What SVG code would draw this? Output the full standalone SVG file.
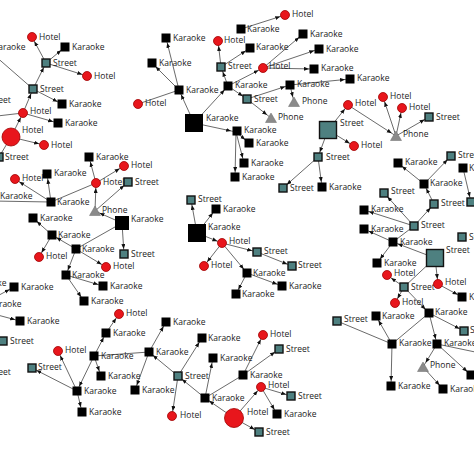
<svg xmlns="http://www.w3.org/2000/svg" width="474" height="474" viewBox="0 0 474 474">
<defs>
<style>
.k{fill:#000}
.h{fill:#e8161c;stroke:#a00000;stroke-width:.8}
.s{fill:#4e8080;stroke:#111;stroke-width:1.4}
.p{fill:#8a8a8a;stroke:#6a6a6a;stroke-width:.5}
text{font-family:"Open Sans","Liberation Sans",sans-serif;font-size:8.5px;fill:#222}
.e{stroke:#444;stroke-width:.8;fill:none}
.a{marker-end:url(#ar)}
</style>
<marker id="ar" markerWidth="6" markerHeight="5" refX="10" refY="2" orient="auto" markerUnits="userSpaceOnUse"><path d="M0,0 L5,2 L0,4z" fill="#111"/></marker>
</defs>
<rect width="474" height="474" fill="#fff"/>
<g id="connectors">
<line class="e a" x1="46" y1="63" x2="32" y2="37"/>
<line class="e a" x1="46" y1="63" x2="65" y2="47"/>
<line class="e a" x1="46" y1="63" x2="87" y2="76"/>
<line class="e a" x1="33" y1="89" x2="46" y2="63"/>
<line class="e a" x1="33" y1="89" x2="62" y2="104"/>
<line class="e a" x1="23" y1="113" x2="33" y2="89"/>
<line class="e a" x1="23" y1="113" x2="58" y2="123"/>
<line class="e a" x1="11" y1="137" x2="44" y2="145"/>
<line class="e a" x1="11" y1="137" x2="23" y2="113"/>
<line class="e" x1="11" y1="137" x2="-1" y2="157"/>
<line class="e" x1="-14" y1="48" x2="33" y2="89"/>
<line class="e" x1="-20" y1="118" x2="23" y2="113"/>
<line class="e a" x1="179" y1="90" x2="166" y2="38"/>
<line class="e a" x1="179" y1="90" x2="152" y2="63"/>
<line class="e" x1="138" y1="104" x2="179" y2="90"/>
<line class="e a" x1="194" y1="123" x2="179" y2="90"/>
<line class="e a" x1="194" y1="123" x2="228" y2="86"/>
<line class="e a" x1="194" y1="123" x2="236" y2="132"/>
<line class="e a" x1="228" y1="86" x2="221" y2="67"/>
<line class="e a" x1="221" y1="67" x2="218" y2="41"/>
<line class="e a" x1="221" y1="67" x2="250" y2="48"/>
<line class="e a" x1="241" y1="29" x2="285" y2="15"/>
<line class="e a" x1="228" y1="86" x2="263" y2="68"/>
<line class="e a" x1="263" y1="68" x2="303" y2="34"/>
<line class="e a" x1="263" y1="68" x2="319" y2="49"/>
<line class="e a" x1="263" y1="68" x2="314" y2="69"/>
<line class="e a" x1="228" y1="86" x2="247" y2="99"/>
<line class="e a" x1="247" y1="99" x2="290" y2="85"/>
<line class="e a" x1="247" y1="99" x2="271" y2="118"/>
<line class="e a" x1="290" y1="85" x2="350" y2="79"/>
<line class="e a" x1="290" y1="85" x2="294" y2="102"/>
<line class="e a" x1="236" y1="132" x2="249" y2="143"/>
<line class="e a" x1="236" y1="132" x2="244" y2="163"/>
<line class="e a" x1="236" y1="132" x2="235" y2="177"/>
<line class="e a" x1="348" y1="105" x2="396" y2="136"/>
<line class="e a" x1="396" y1="136" x2="383" y2="97"/>
<line class="e a" x1="396" y1="136" x2="402" y2="108"/>
<line class="e a" x1="396" y1="136" x2="429" y2="117"/>
<line class="e a" x1="328" y1="130" x2="348" y2="105"/>
<line class="e a" x1="328" y1="130" x2="354" y2="146"/>
<line class="e a" x1="328" y1="130" x2="318" y2="157"/>
<line class="e a" x1="318" y1="157" x2="322" y2="187"/>
<line class="e a" x1="318" y1="157" x2="283" y2="188"/>
<line class="e a" x1="51" y1="202" x2="15" y2="179"/>
<line class="e a" x1="51" y1="202" x2="47" y2="174"/>
<line class="e" x1="51" y1="202" x2="96" y2="183"/>
<line class="e a" x1="96" y1="183" x2="89" y2="157"/>
<line class="e a" x1="96" y1="183" x2="124" y2="166"/>
<line class="e a" x1="95" y1="211" x2="96" y2="183"/>
<line class="e a" x1="95" y1="211" x2="128" y2="182"/>
<line class="e a" x1="122" y1="223" x2="95" y2="211"/>
<line class="e" x1="122" y1="223" x2="76" y2="249"/>
<line class="e a" x1="76" y1="249" x2="52" y2="235"/>
<line class="e a" x1="52" y1="235" x2="33" y2="218"/>
<line class="e a" x1="52" y1="235" x2="39" y2="257"/>
<line class="e a" x1="76" y1="249" x2="106" y2="267"/>
<line class="e a" x1="76" y1="249" x2="66" y2="275"/>
<line class="e a" x1="66" y1="275" x2="103" y2="286"/>
<line class="e a" x1="66" y1="275" x2="84" y2="301"/>
<line class="e a" x1="122" y1="223" x2="124" y2="254"/>
<line class="e" x1="-8" y1="201" x2="51" y2="202"/>
<line class="e a" x1="-10" y1="300" x2="14" y2="287"/>
<line class="e a" x1="-10" y1="313" x2="20" y2="321"/>
<line class="e a" x1="197" y1="233" x2="191" y2="200"/>
<line class="e a" x1="197" y1="233" x2="216" y2="209"/>
<line class="e a" x1="197" y1="233" x2="222" y2="243"/>
<line class="e a" x1="222" y1="243" x2="204" y2="266"/>
<line class="e a" x1="222" y1="243" x2="257" y2="252"/>
<line class="e a" x1="257" y1="252" x2="292" y2="266"/>
<line class="e a" x1="222" y1="243" x2="247" y2="273"/>
<line class="e a" x1="247" y1="273" x2="282" y2="286"/>
<line class="e a" x1="247" y1="273" x2="236" y2="294"/>
<line class="e a" x1="77" y1="391" x2="32" y2="368"/>
<line class="e a" x1="77" y1="391" x2="58" y2="351"/>
<line class="e a" x1="77" y1="391" x2="82" y2="412"/>
<line class="e a" x1="94" y1="356" x2="77" y2="391"/>
<line class="e a" x1="94" y1="356" x2="106" y2="333"/>
<line class="e a" x1="94" y1="356" x2="101" y2="376"/>
<line class="e a" x1="106" y1="333" x2="119" y2="314"/>
<line class="e" x1="149" y1="352" x2="94" y2="356"/>
<line class="e a" x1="149" y1="352" x2="166" y2="322"/>
<line class="e a" x1="149" y1="352" x2="135" y2="390"/>
<line class="e a" x1="178" y1="376" x2="149" y2="352"/>
<line class="e a" x1="178" y1="376" x2="202" y2="338"/>
<line class="e a" x1="178" y1="376" x2="172" y2="416"/>
<line class="e a" x1="205" y1="398" x2="178" y2="376"/>
<line class="e a" x1="205" y1="398" x2="213" y2="358"/>
<line class="e a" x1="234" y1="418" x2="205" y2="398"/>
<line class="e" x1="205" y1="398" x2="243" y2="375"/>
<line class="e a" x1="243" y1="375" x2="263" y2="335"/>
<line class="e a" x1="243" y1="375" x2="279" y2="349"/>
<line class="e a" x1="234" y1="418" x2="261" y2="387"/>
<line class="e a" x1="261" y1="387" x2="291" y2="396"/>
<line class="e a" x1="261" y1="387" x2="277" y2="414"/>
<line class="e a" x1="234" y1="418" x2="259" y2="432"/>
<line class="e a" x1="424" y1="184" x2="398" y2="163"/>
<line class="e a" x1="424" y1="184" x2="451" y2="156"/>
<line class="e a" x1="434" y1="204" x2="424" y2="184"/>
<line class="e a" x1="414" y1="226" x2="434" y2="204"/>
<line class="e a" x1="414" y1="226" x2="364" y2="210"/>
<line class="e a" x1="414" y1="226" x2="384" y2="193"/>
<line class="e" x1="393" y1="242" x2="414" y2="226"/>
<line class="e a" x1="393" y1="242" x2="364" y2="229"/>
<line class="e a" x1="435" y1="258" x2="393" y2="242"/>
<line class="e a" x1="393" y1="242" x2="377" y2="263"/>
<line class="e" x1="435" y1="258" x2="404" y2="287"/>
<line class="e a" x1="404" y1="287" x2="387" y2="275"/>
<line class="e a" x1="404" y1="287" x2="395" y2="303"/>
<line class="e a" x1="435" y1="258" x2="438" y2="284"/>
<line class="e a" x1="438" y1="284" x2="462" y2="297"/>
<line class="e a" x1="404" y1="287" x2="429" y2="313"/>
<line class="e a" x1="463" y1="168" x2="471" y2="202"/>
<line class="e" x1="337" y1="321" x2="392" y2="344"/>
<line class="e a" x1="392" y1="344" x2="376" y2="316"/>
<line class="e" x1="429" y1="313" x2="392" y2="344"/>
<line class="e a" x1="429" y1="313" x2="437" y2="344"/>
<line class="e a" x1="429" y1="313" x2="464" y2="331"/>
<line class="e a" x1="437" y1="344" x2="423" y2="367"/>
<line class="e a" x1="423" y1="367" x2="443" y2="389"/>
<line class="e a" x1="437" y1="344" x2="471" y2="375"/>
<line class="e" x1="437" y1="344" x2="480" y2="353"/>
<line class="e a" x1="392" y1="344" x2="391" y2="386"/>
</g>
<g id="nodes">
<g id="n1"><circle class="h" cx="32" cy="37" r="4.5"/><text x="39" y="40">Hotel</text></g>
<g id="n2"><rect class="k" x="60.5" y="42.5" width="9" height="9"/><text x="72" y="50">Karaoke</text></g>
<g id="n3"><rect class="s" x="42" y="59" width="8" height="8"/><text x="53" y="66">Street</text></g>
<g id="n4"><circle class="h" cx="87" cy="76" r="4.5"/><text x="94" y="79">Hotel</text></g>
<g id="n5"><rect class="s" x="29" y="85" width="8" height="8"/><text x="40" y="92">Street</text></g>
<g id="n6"><rect class="k" x="57.5" y="99.5" width="9" height="9"/><text x="69" y="107">Karaoke</text></g>
<g id="n7"><circle class="h" cx="23" cy="113" r="4.5"/><text x="30" y="114">Hotel</text></g>
<g id="n8"><rect class="k" x="53.5" y="118.5" width="9" height="9"/><text x="65" y="126">Karaoke</text></g>
<g id="n9"><circle class="h" cx="11" cy="137" r="9"/><text x="22" y="133">Hotel</text></g>
<g id="n10"><circle class="h" cx="44" cy="145" r="4.5"/><text x="51" y="148">Hotel</text></g>
<g id="n11"><rect class="s" x="-5" y="153" width="8" height="8"/><text x="5" y="160">Street</text></g>
<g id="nx1"><text x="-7" y="50">Karaoke</text></g>
<g id="nx2"><text x="-13" y="103">Street</text></g>
<g id="n20"><rect class="k" x="161.5" y="33.5" width="9" height="9"/><text x="173" y="41">Karaoke</text></g>
<g id="n21"><rect class="k" x="147.5" y="58.5" width="9" height="9"/><text x="159" y="66">Karaoke</text></g>
<g id="n22"><rect class="k" x="174.5" y="85.5" width="9" height="9"/><text x="186" y="93">Karaoke</text></g>
<g id="n23"><circle class="h" cx="138" cy="104" r="4.5"/><text x="145" y="106">Hotel</text></g>
<g id="n24"><rect class="k" x="185" y="114" width="18" height="18"/><text x="206" y="121">Karaoke</text></g>
<g id="n25"><rect class="k" x="223.5" y="81.5" width="9" height="9"/><text x="235" y="88">Karaoke</text></g>
<g id="n26"><rect class="s" x="217" y="63" width="8" height="8"/><text x="228" y="69">Street</text></g>
<g id="n27"><circle class="h" cx="218" cy="41" r="4.5"/><text x="224" y="43">Hotel</text></g>
<g id="n28"><rect class="k" x="236.5" y="24.5" width="9" height="9"/><text x="247" y="32">Karaoke</text></g>
<g id="n29"><circle class="h" cx="285" cy="15" r="4.5"/><text x="292" y="17">Hotel</text></g>
<g id="n30"><rect class="k" x="245.5" y="43.5" width="9" height="9"/><text x="256" y="50">Karaoke</text></g>
<g id="n31"><rect class="k" x="298.5" y="29.5" width="9" height="9"/><text x="310" y="37">Karaoke</text></g>
<g id="n32"><rect class="k" x="314.5" y="44.5" width="9" height="9"/><text x="326" y="52">Karaoke</text></g>
<g id="n33"><circle class="h" cx="263" cy="68" r="4.5"/><text x="269" y="69">Hotel</text></g>
<g id="n34"><rect class="k" x="309.5" y="64.5" width="9" height="9"/><text x="321" y="71">Karaoke</text></g>
<g id="n35"><rect class="k" x="285.5" y="80.5" width="9" height="9"/><text x="297" y="87">Karaoke</text></g>
<g id="n36"><rect class="k" x="345.5" y="74.5" width="9" height="9"/><text x="357" y="81">Karaoke</text></g>
<g id="n37"><rect class="s" x="243" y="95" width="8" height="8"/><text x="254" y="102">Street</text></g>
<g id="n38"><polygon class="p" points="288.5,106.5 299.5,106.5 294,97"/><text x="302" y="104">Phone</text></g>
<g id="n39"><polygon class="p" points="265.5,122.5 276.5,122.5 271,113"/><text x="278" y="120">Phone</text></g>
<g id="n40"><rect class="k" x="232.5" y="126.5" width="9" height="9"/><text x="244" y="133">Karaoke</text></g>
<g id="n41"><rect class="k" x="244.5" y="138.5" width="9" height="9"/><text x="256" y="146">Karaoke</text></g>
<g id="n42"><rect class="k" x="239.5" y="158.5" width="9" height="9"/><text x="251" y="166">Karaoke</text></g>
<g id="n43"><rect class="k" x="230.5" y="172.5" width="9" height="9"/><text x="242" y="180">Karaoke</text></g>
<g id="n50"><circle class="h" cx="348" cy="105" r="4.5"/><text x="355" y="106">Hotel</text></g>
<g id="n51"><circle class="h" cx="383" cy="97" r="4.5"/><text x="390" y="99">Hotel</text></g>
<g id="n52"><circle class="h" cx="402" cy="108" r="4.5"/><text x="409" y="110">Hotel</text></g>
<g id="n53"><rect class="s" x="425" y="113" width="8" height="8"/><text x="436" y="120">Street</text></g>
<g id="n54"><polygon class="p" points="390.5,140.5 401.5,140.5 396,131"/><text x="403" y="137">Phone</text></g>
<g id="n55"><rect class="s" x="319.5" y="121.5" width="17" height="17"/><text x="340" y="126">Street</text></g>
<g id="n56"><circle class="h" cx="354" cy="146" r="4.5"/><text x="361" y="148">Hotel</text></g>
<g id="n57"><rect class="s" x="314" y="153" width="8" height="8"/><text x="326" y="160">Street</text></g>
<g id="n58"><rect class="k" x="317.5" y="182.5" width="9" height="9"/><text x="329" y="190">Karaoke</text></g>
<g id="n59"><rect class="s" x="279" y="184" width="8" height="8"/><text x="290" y="191">Street</text></g>
<g id="n60"><rect class="k" x="84.5" y="152.5" width="9" height="9"/><text x="96" y="160">Karaoke</text></g>
<g id="n61"><circle class="h" cx="15" cy="179" r="4.5"/><text x="22" y="181">Hotel</text></g>
<g id="n62"><rect class="k" x="42.5" y="169.5" width="9" height="9"/><text x="54" y="176">Karaoke</text></g>
<g id="n63"><circle class="h" cx="96" cy="183" r="4.5"/><text x="103" y="185">Hotel</text></g>
<g id="n64"><circle class="h" cx="124" cy="166" r="4.5"/><text x="131" y="168">Hotel</text></g>
<g id="n65"><rect class="k" x="46.5" y="197.5" width="9" height="9"/><text x="57" y="205">Karaoke</text></g>
<g id="n66"><polygon class="p" points="89.5,215.5 100.5,215.5 95,206"/><text x="102" y="213">Phone</text></g>
<g id="n67"><rect class="s" x="124" y="178" width="8" height="8"/><text x="135" y="185">Street</text></g>
<g id="n68"><rect class="k" x="115" y="216" width="14" height="14"/><text x="131" y="222">Karaoke</text></g>
<g id="n69"><rect class="k" x="28.5" y="213.5" width="9" height="9"/><text x="40" y="221">Karaoke</text></g>
<g id="n70"><rect class="k" x="47.5" y="230.5" width="9" height="9"/><text x="58" y="238">Karaoke</text></g>
<g id="n71"><circle class="h" cx="39" cy="257" r="4.5"/><text x="46" y="259">Hotel</text></g>
<g id="n72"><rect class="k" x="71.5" y="244.5" width="9" height="9"/><text x="82" y="252">Karaoke</text></g>
<g id="n73"><circle class="h" cx="106" cy="267" r="4.5"/><text x="113" y="269">Hotel</text></g>
<g id="n74"><rect class="s" x="120" y="250" width="8" height="8"/><text x="131" y="257">Street</text></g>
<g id="n75"><rect class="k" x="61.5" y="270.5" width="9" height="9"/><text x="72" y="278">Karaoke</text></g>
<g id="n76"><rect class="k" x="98.5" y="281.5" width="9" height="9"/><text x="110" y="289">Karaoke</text></g>
<g id="n77"><rect class="k" x="79.5" y="296.5" width="9" height="9"/><text x="91" y="304">Karaoke</text></g>
<g id="n78"><rect class="k" x="9.5" y="282.5" width="9" height="9"/><text x="21" y="290">Karaoke</text></g>
<g id="n79"><rect class="k" x="15.5" y="316.5" width="9" height="9"/><text x="27" y="324">Karaoke</text></g>
<g id="n80"><circle class="h" cx="119" cy="314" r="4.5"/><text x="126" y="316">Hotel</text></g>
<g id="nx3"><text x="0" y="199">Karaoke</text></g>
<g id="nx4"><text x="-26" y="286">Karaoke</text></g>
<g id="nx5"><text x="-11" y="307">Karaoke</text></g>
<g id="nx6"><text x="-13" y="375">Street</text></g>
<g id="n81"><rect class="s" x="-1" y="337" width="8" height="8"/><text x="10" y="344">Street</text></g>
<g id="n82"><circle class="h" cx="58" cy="351" r="4.5"/><text x="65" y="353">Hotel</text></g>
<g id="n83"><rect class="s" x="28" y="364" width="8" height="8"/><text x="38" y="370">Street</text></g>
<g id="n84"><rect class="k" x="72.5" y="386.5" width="9" height="9"/><text x="84" y="394">Karaoke</text></g>
<g id="n85"><rect class="k" x="77.5" y="407.5" width="9" height="9"/><text x="89" y="415">Karaoke</text></g>
<g id="n86"><rect class="k" x="89.5" y="351.5" width="9" height="9"/><text x="101" y="359">Karaoke</text></g>
<g id="n87"><rect class="k" x="101.5" y="328.5" width="9" height="9"/><text x="113" y="336">Karaoke</text></g>
<g id="n88"><rect class="k" x="96.5" y="371.5" width="9" height="9"/><text x="108" y="379">Karaoke</text></g>
<g id="n89"><rect class="k" x="161.5" y="317.5" width="9" height="9"/><text x="173" y="325">Karaoke</text></g>
<g id="n90"><rect class="k" x="144.5" y="347.5" width="9" height="9"/><text x="156" y="355">Karaoke</text></g>
<g id="n91"><rect class="k" x="130.5" y="385.5" width="9" height="9"/><text x="142" y="393">Karaoke</text></g>
<g id="n92"><rect class="s" x="174" y="372" width="8" height="8"/><text x="185" y="379">Street</text></g>
<g id="n93"><rect class="k" x="197.5" y="333.5" width="9" height="9"/><text x="208" y="341">Karaoke</text></g>
<g id="n94"><rect class="k" x="208.5" y="353.5" width="9" height="9"/><text x="220" y="361">Karaoke</text></g>
<g id="n95"><rect class="k" x="200.5" y="393.5" width="9" height="9"/><text x="212" y="401">Karaoke</text></g>
<g id="n96"><circle class="h" cx="172" cy="416" r="4.5"/><text x="180" y="418">Hotel</text></g>
<g id="n97"><circle class="h" cx="234" cy="418" r="9.5"/><text x="247" y="415">Hotel</text></g>
<g id="n98"><rect class="k" x="238.5" y="370.5" width="9" height="9"/><text x="250" y="378">Karaoke</text></g>
<g id="n99"><circle class="h" cx="263" cy="335" r="4.5"/><text x="270" y="337">Hotel</text></g>
<g id="n100"><rect class="s" x="275" y="345" width="8" height="8"/><text x="286" y="352">Street</text></g>
<g id="n101"><circle class="h" cx="261" cy="387" r="4.5"/><text x="268" y="388">Hotel</text></g>
<g id="n102"><rect class="s" x="287" y="392" width="8" height="8"/><text x="298" y="399">Street</text></g>
<g id="n103"><rect class="k" x="272.5" y="409.5" width="9" height="9"/><text x="284" y="417">Karaoke</text></g>
<g id="n104"><rect class="s" x="255" y="428" width="8" height="8"/><text x="266" y="435">Street</text></g>
<g id="n140"><rect class="s" x="187" y="196" width="8" height="8"/><text x="198" y="202">Street</text></g>
<g id="n141"><rect class="k" x="211.5" y="204.5" width="9" height="9"/><text x="223" y="212">Karaoke</text></g>
<g id="n142"><rect class="k" x="188" y="224" width="18" height="18"/><text x="208" y="230">Karaoke</text></g>
<g id="n143"><circle class="h" cx="222" cy="243" r="4.5"/><text x="229" y="244">Hotel</text></g>
<g id="n144"><circle class="h" cx="204" cy="266" r="4.5"/><text x="211" y="268">Hotel</text></g>
<g id="n145"><rect class="s" x="253" y="248" width="8" height="8"/><text x="264" y="254">Street</text></g>
<g id="n146"><rect class="s" x="288" y="262" width="8" height="8"/><text x="298" y="268">Street</text></g>
<g id="n147"><rect class="k" x="242.5" y="268.5" width="9" height="9"/><text x="253" y="276">Karaoke</text></g>
<g id="n148"><rect class="k" x="277.5" y="281.5" width="9" height="9"/><text x="289" y="289">Karaoke</text></g>
<g id="n149"><rect class="k" x="231.5" y="289.5" width="9" height="9"/><text x="242" y="297">Karaoke</text></g>
<g id="n110"><rect class="s" x="447" y="152" width="8" height="8"/><text x="458" y="158">Street</text></g>
<g id="n111"><rect class="k" x="393.5" y="158.5" width="9" height="9"/><text x="405" y="165">Karaoke</text></g>
<g id="n112"><rect class="k" x="458.5" y="163.5" width="9" height="9"/><text x="469" y="171">Karaoke</text></g>
<g id="n113"><rect class="k" x="419.5" y="179.5" width="9" height="9"/><text x="430" y="186">Karaoke</text></g>
<g id="n114"><rect class="s" x="380" y="189" width="8" height="8"/><text x="391" y="194">Street</text></g>
<g id="n115"><rect class="s" x="430" y="200" width="8" height="8"/><text x="441" y="206">Street</text></g>
<g id="n116"><rect class="s" x="467" y="198" width="8" height="8"/></g>
<g id="n117"><rect class="k" x="359.5" y="205.5" width="9" height="9"/><text x="371" y="212">Karaoke</text></g>
<g id="n118"><rect class="s" x="410" y="222" width="8" height="8"/><text x="421" y="228">Street</text></g>
<g id="n119"><rect class="k" x="359.5" y="224.5" width="9" height="9"/><text x="371" y="232">Karaoke</text></g>
<g id="n120"><rect class="s" x="458" y="233" width="8" height="8"/><text x="469" y="240">Street</text></g>
<g id="n121"><rect class="k" x="388.5" y="237.5" width="9" height="9"/><text x="400" y="245">Karaoke</text></g>
<g id="n122"><rect class="s" x="426.5" y="249.5" width="17" height="17"/><text x="446" y="253">Street</text></g>
<g id="n123"><rect class="k" x="372.5" y="258.5" width="9" height="9"/><text x="384" y="266">Karaoke</text></g>
<g id="n124"><circle class="h" cx="387" cy="275" r="4.5"/><text x="394" y="276">Hotel</text></g>
<g id="n125"><rect class="s" x="400" y="283" width="8" height="8"/><text x="411" y="290">Street</text></g>
<g id="n126"><circle class="h" cx="438" cy="284" r="4.5"/><text x="445" y="285">Hotel</text></g>
<g id="n127"><circle class="h" cx="395" cy="303" r="4.5"/><text x="402" y="305">Hotel</text></g>
<g id="n128"><rect class="k" x="457.5" y="292.5" width="9" height="9"/><text x="469" y="300">Karaoke</text></g>
<g id="n129"><rect class="k" x="424.5" y="308.5" width="9" height="9"/><text x="435" y="315">Karaoke</text></g>
<g id="n130"><rect class="k" x="371.5" y="311.5" width="9" height="9"/><text x="382" y="319">Karaoke</text></g>
<g id="n131"><rect class="s" x="333" y="317" width="8" height="8"/><text x="344" y="322">Street</text></g>
<g id="n132"><rect class="k" x="387.5" y="339.5" width="9" height="9"/><text x="399" y="346">Karaoke</text></g>
<g id="n133"><rect class="k" x="432.5" y="339.5" width="9" height="9"/><text x="444" y="346">Karaoke</text></g>
<g id="n134"><rect class="s" x="460" y="327" width="8" height="8"/><text x="470" y="333">Street</text></g>
<g id="n135"><polygon class="p" points="417.5,371.5 428.5,371.5 423,362"/><text x="430" y="368">Phone</text></g>
<g id="n136"><rect class="k" x="386.5" y="381.5" width="9" height="9"/><text x="398" y="389">Karaoke</text></g>
<g id="n137"><rect class="k" x="438.5" y="384.5" width="9" height="9"/><text x="450" y="392">Karaoke</text></g>
<g id="n138"><rect class="k" x="466.5" y="370.5" width="9" height="9"/></g>
</g>
</svg>
